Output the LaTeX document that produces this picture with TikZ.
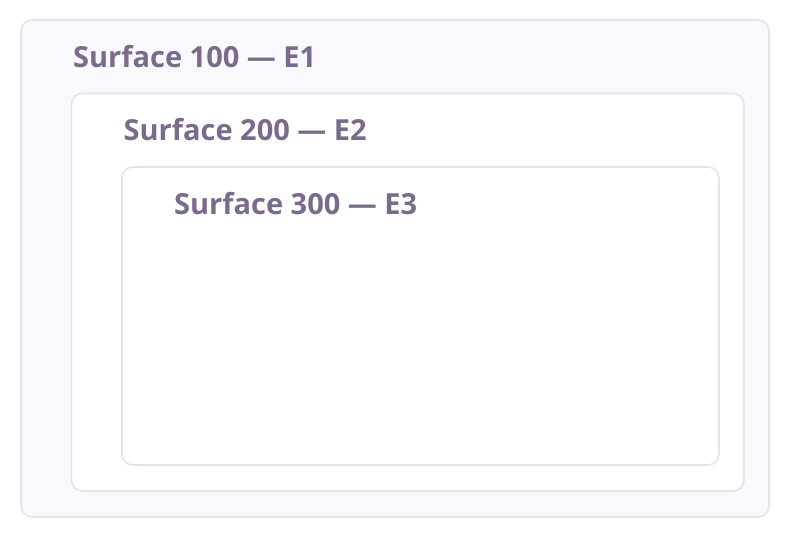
\documentclass[tikz,border=0pt]{standalone}
\usepackage{fontspec}
\setmainfont{Open Sans}
\usepackage{tikz}
\definecolor{panelline}{HTML}{E6E2EE}
\definecolor{outerfill}{HTML}{F9F8FC}
\definecolor{titletext}{HTML}{7B6A8C}
\tikzstyle{panel} = [draw=panelline, line width=1.6pt, rounded corners=11pt]
\tikzstyle{title} = [anchor=base west, inner sep=0pt, text=titletext,
	font=\fontsize{29}{34}\selectfont\bfseries]

\begin{document}
\begin{tikzpicture}[x=1pt, y=-1pt]
			\useasboundingbox (0,0) rectangle (788,536);
			
			\foreach \i/\fc/\lbl in {0/outerfill/100, 1/white/200, 2/white/300}{
				\pgfmathsetmacro{\L}{21+50.5*\i}
				\pgfmathsetmacro{\T}{20+73.5*\i}
				\pgfmathsetmacro{\R}{769-25*\i}
				\pgfmathsetmacro{\B}{517-26*\i}
				\pgfmathtruncatemacro{\n}{\i+1}
				\draw [panel, fill=\fc] (\L,\T) rectangle (\R,\B);
				\node [title] (S\lbl) at (\L+52,\T+47) {Surface \lbl{} — E\n};
			}
			
			\end{tikzpicture}
\end{document}
